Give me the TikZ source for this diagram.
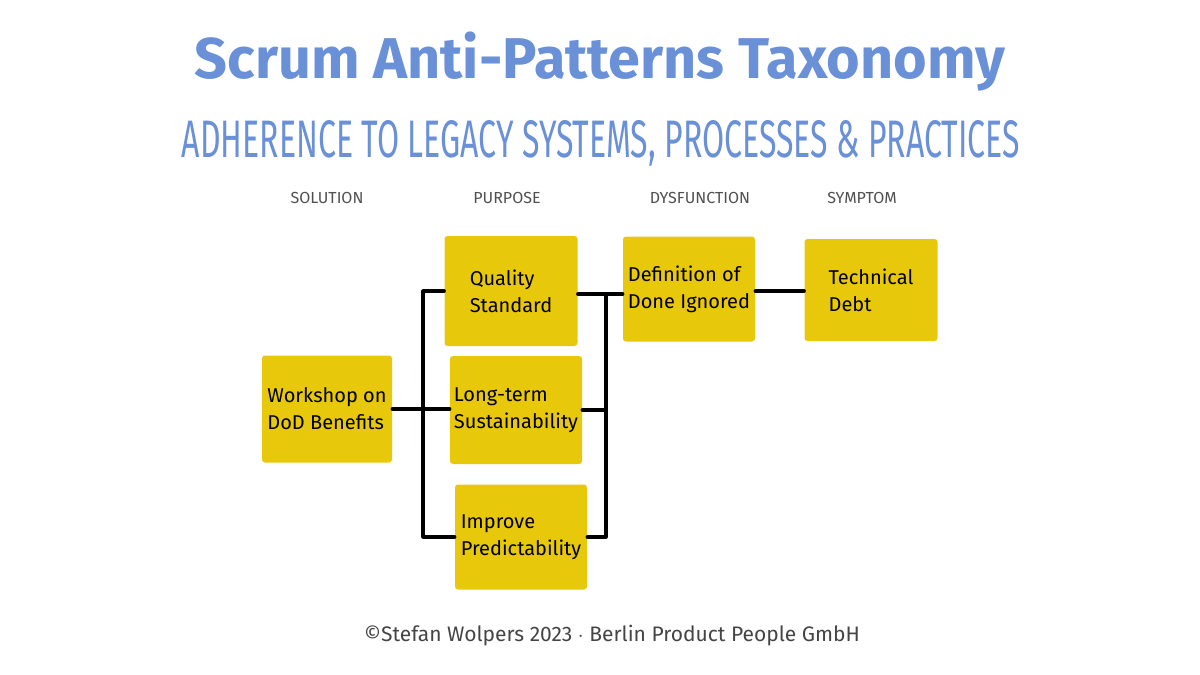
\documentclass[tikz,border=0pt]{standalone}
\usepackage{fontspec}
\usepackage{graphicx}
\setmainfont{Fira Sans}
\usepackage{tikz}
\definecolor{titleblue}{HTML}{6A90D8}
\definecolor{noteyellow}{HTML}{E8C80A}
\definecolor{headgray}{HTML}{505050}
\definecolor{footgray}{HTML}{444444}
\tikzset{
  note/.style={fill=noteyellow, rounded corners=3pt, align=left,
    font=\fontsize{20}{27}\selectfont, text=black, inner sep=4pt},
  colhead/.style={font=\fontsize{16}{19}\selectfont, text=headgray},
  link/.style={line width=3.2pt, black, line cap=round, line join=round}
}
\begin{document}
\begin{tikzpicture}[x=1pt,y=-1pt]
    \useasboundingbox (0,0) rectangle (1200,675);
    % title and subtitle
    \node (title) at (600,62) {\resizebox{810pt}{!}{\color{titleblue}\bfseries Scrum Anti-Patterns Taxonomy}};
    \node (subtitle) at (601,143) {\resizebox{838pt}{37pt}{\color{titleblue}ADHERENCE TO LEGACY SYSTEMS, PROCESSES \& PRACTICES}};
    % column heads
    \node [colhead] (hsol) at (327,198) {SOLUTION};
    \node [colhead] (hpur) at (507,198) {PURPOSE};
    \node [colhead] (hdys) at (700,198) {DYSFUNCTION};
    \node [colhead] (hsym) at (862,198) {SYMPTOM};
    % notes
    \node [note, minimum width=130pt, minimum height=107pt] (sol) at (327,409) {Workshop on\\DoD Benefits};
    \node [note, minimum width=133pt, minimum height=110pt] (qual) at (511,291) {Quality\\Standard};
    \node [note, minimum width=132pt, minimum height=108pt] (long) at (516,410) {Long-term\\Sustainability};
    \node [note, minimum width=132pt, minimum height=105pt] (impr) at (521,537) {Improve\\Predictability};
    \node [note, minimum width=132pt, minimum height=105pt] (dysf) at (689,289) {Definition of\\Done Ignored};
    \node [note, minimum width=133pt, minimum height=102pt] (symp) at (871,290) {Technical\\Debt};
    % connectors
    \coordinate (lbus) at (423,0);
    \coordinate (rbus) at (606,0);
    \draw [link] (sol.east) -- (sol.east -| long.west);
    \draw [link] (qual.west) -| (lbus |- impr.west) -- (impr.west);
    \draw [link] (qual.east |- 0,294) -- (dysf.west |- 0,294);
    \draw [link] (rbus |- 0,294) -- (rbus |- impr.east) -- (impr.east);
    \draw [link] (long.east) -- (rbus |- long.east);
    \draw [link] (dysf.east |- 0,291) -- (symp.west |- 0,291);
    % footer
    \node [font=\fontsize{21}{25}\selectfont, text=footgray] (foot) at (612,636) {\textcopyright Stefan Wolpers 2023 $\cdot$ Berlin Product People GmbH};
\end{tikzpicture}
\end{document}
